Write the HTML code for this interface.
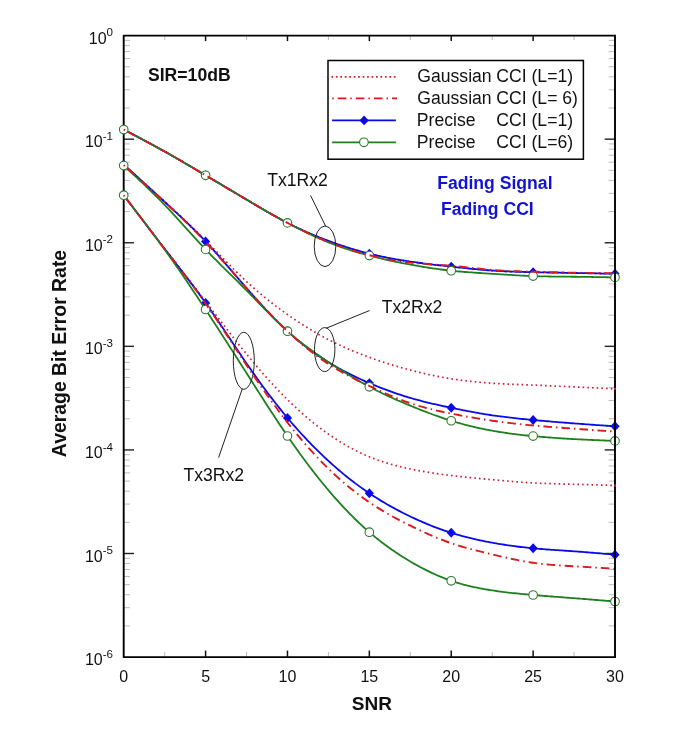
<!DOCTYPE html>
<html><head><meta charset="utf-8"><title>BER vs SNR</title>
<style>html,body{margin:0;padding:0;background:#fff;width:685px;height:754px;overflow:hidden}</style>
</head><body>
<svg width="685" height="754" viewBox="0 0 685 754" style="display:block">
<rect width="100%" height="100%" fill="#fff"/>
<line x1="123.7" y1="108.00" x2="130.00" y2="108.00" stroke="#bcbcbc" stroke-width="1"/>
<line x1="615.0" y1="108.00" x2="608.70" y2="108.00" stroke="#bcbcbc" stroke-width="1"/>
<line x1="123.7" y1="89.76" x2="130.00" y2="89.76" stroke="#bcbcbc" stroke-width="1"/>
<line x1="615.0" y1="89.76" x2="608.70" y2="89.76" stroke="#bcbcbc" stroke-width="1"/>
<line x1="123.7" y1="76.82" x2="130.00" y2="76.82" stroke="#bcbcbc" stroke-width="1"/>
<line x1="615.0" y1="76.82" x2="608.70" y2="76.82" stroke="#bcbcbc" stroke-width="1"/>
<line x1="123.7" y1="66.78" x2="130.00" y2="66.78" stroke="#bcbcbc" stroke-width="1"/>
<line x1="615.0" y1="66.78" x2="608.70" y2="66.78" stroke="#bcbcbc" stroke-width="1"/>
<line x1="123.7" y1="58.58" x2="130.00" y2="58.58" stroke="#bcbcbc" stroke-width="1"/>
<line x1="615.0" y1="58.58" x2="608.70" y2="58.58" stroke="#bcbcbc" stroke-width="1"/>
<line x1="123.7" y1="51.64" x2="130.00" y2="51.64" stroke="#bcbcbc" stroke-width="1"/>
<line x1="615.0" y1="51.64" x2="608.70" y2="51.64" stroke="#bcbcbc" stroke-width="1"/>
<line x1="123.7" y1="45.64" x2="130.00" y2="45.64" stroke="#bcbcbc" stroke-width="1"/>
<line x1="615.0" y1="45.64" x2="608.70" y2="45.64" stroke="#bcbcbc" stroke-width="1"/>
<line x1="123.7" y1="40.34" x2="130.00" y2="40.34" stroke="#bcbcbc" stroke-width="1"/>
<line x1="615.0" y1="40.34" x2="608.70" y2="40.34" stroke="#bcbcbc" stroke-width="1"/>
<line x1="123.7" y1="139.18" x2="134.00" y2="139.18" stroke="#222" stroke-width="1.4"/>
<line x1="615.0" y1="139.18" x2="604.70" y2="139.18" stroke="#222" stroke-width="1.4"/>
<line x1="123.7" y1="211.58" x2="130.00" y2="211.58" stroke="#bcbcbc" stroke-width="1"/>
<line x1="615.0" y1="211.58" x2="608.70" y2="211.58" stroke="#bcbcbc" stroke-width="1"/>
<line x1="123.7" y1="193.34" x2="130.00" y2="193.34" stroke="#bcbcbc" stroke-width="1"/>
<line x1="615.0" y1="193.34" x2="608.70" y2="193.34" stroke="#bcbcbc" stroke-width="1"/>
<line x1="123.7" y1="180.40" x2="130.00" y2="180.40" stroke="#bcbcbc" stroke-width="1"/>
<line x1="615.0" y1="180.40" x2="608.70" y2="180.40" stroke="#bcbcbc" stroke-width="1"/>
<line x1="123.7" y1="170.36" x2="130.00" y2="170.36" stroke="#bcbcbc" stroke-width="1"/>
<line x1="615.0" y1="170.36" x2="608.70" y2="170.36" stroke="#bcbcbc" stroke-width="1"/>
<line x1="123.7" y1="162.16" x2="130.00" y2="162.16" stroke="#bcbcbc" stroke-width="1"/>
<line x1="615.0" y1="162.16" x2="608.70" y2="162.16" stroke="#bcbcbc" stroke-width="1"/>
<line x1="123.7" y1="155.22" x2="130.00" y2="155.22" stroke="#bcbcbc" stroke-width="1"/>
<line x1="615.0" y1="155.22" x2="608.70" y2="155.22" stroke="#bcbcbc" stroke-width="1"/>
<line x1="123.7" y1="149.22" x2="130.00" y2="149.22" stroke="#bcbcbc" stroke-width="1"/>
<line x1="615.0" y1="149.22" x2="608.70" y2="149.22" stroke="#bcbcbc" stroke-width="1"/>
<line x1="123.7" y1="143.92" x2="130.00" y2="143.92" stroke="#bcbcbc" stroke-width="1"/>
<line x1="615.0" y1="143.92" x2="608.70" y2="143.92" stroke="#bcbcbc" stroke-width="1"/>
<line x1="123.7" y1="242.76" x2="134.00" y2="242.76" stroke="#222" stroke-width="1.4"/>
<line x1="615.0" y1="242.76" x2="604.70" y2="242.76" stroke="#222" stroke-width="1.4"/>
<line x1="123.7" y1="315.16" x2="130.00" y2="315.16" stroke="#bcbcbc" stroke-width="1"/>
<line x1="615.0" y1="315.16" x2="608.70" y2="315.16" stroke="#bcbcbc" stroke-width="1"/>
<line x1="123.7" y1="296.92" x2="130.00" y2="296.92" stroke="#bcbcbc" stroke-width="1"/>
<line x1="615.0" y1="296.92" x2="608.70" y2="296.92" stroke="#bcbcbc" stroke-width="1"/>
<line x1="123.7" y1="283.98" x2="130.00" y2="283.98" stroke="#bcbcbc" stroke-width="1"/>
<line x1="615.0" y1="283.98" x2="608.70" y2="283.98" stroke="#bcbcbc" stroke-width="1"/>
<line x1="123.7" y1="273.94" x2="130.00" y2="273.94" stroke="#bcbcbc" stroke-width="1"/>
<line x1="615.0" y1="273.94" x2="608.70" y2="273.94" stroke="#bcbcbc" stroke-width="1"/>
<line x1="123.7" y1="265.74" x2="130.00" y2="265.74" stroke="#bcbcbc" stroke-width="1"/>
<line x1="615.0" y1="265.74" x2="608.70" y2="265.74" stroke="#bcbcbc" stroke-width="1"/>
<line x1="123.7" y1="258.80" x2="130.00" y2="258.80" stroke="#bcbcbc" stroke-width="1"/>
<line x1="615.0" y1="258.80" x2="608.70" y2="258.80" stroke="#bcbcbc" stroke-width="1"/>
<line x1="123.7" y1="252.80" x2="130.00" y2="252.80" stroke="#bcbcbc" stroke-width="1"/>
<line x1="615.0" y1="252.80" x2="608.70" y2="252.80" stroke="#bcbcbc" stroke-width="1"/>
<line x1="123.7" y1="247.50" x2="130.00" y2="247.50" stroke="#bcbcbc" stroke-width="1"/>
<line x1="615.0" y1="247.50" x2="608.70" y2="247.50" stroke="#bcbcbc" stroke-width="1"/>
<line x1="123.7" y1="346.34" x2="134.00" y2="346.34" stroke="#222" stroke-width="1.4"/>
<line x1="615.0" y1="346.34" x2="604.70" y2="346.34" stroke="#222" stroke-width="1.4"/>
<line x1="123.7" y1="418.74" x2="130.00" y2="418.74" stroke="#bcbcbc" stroke-width="1"/>
<line x1="615.0" y1="418.74" x2="608.70" y2="418.74" stroke="#bcbcbc" stroke-width="1"/>
<line x1="123.7" y1="400.50" x2="130.00" y2="400.50" stroke="#bcbcbc" stroke-width="1"/>
<line x1="615.0" y1="400.50" x2="608.70" y2="400.50" stroke="#bcbcbc" stroke-width="1"/>
<line x1="123.7" y1="387.56" x2="130.00" y2="387.56" stroke="#bcbcbc" stroke-width="1"/>
<line x1="615.0" y1="387.56" x2="608.70" y2="387.56" stroke="#bcbcbc" stroke-width="1"/>
<line x1="123.7" y1="377.52" x2="130.00" y2="377.52" stroke="#bcbcbc" stroke-width="1"/>
<line x1="615.0" y1="377.52" x2="608.70" y2="377.52" stroke="#bcbcbc" stroke-width="1"/>
<line x1="123.7" y1="369.32" x2="130.00" y2="369.32" stroke="#bcbcbc" stroke-width="1"/>
<line x1="615.0" y1="369.32" x2="608.70" y2="369.32" stroke="#bcbcbc" stroke-width="1"/>
<line x1="123.7" y1="362.38" x2="130.00" y2="362.38" stroke="#bcbcbc" stroke-width="1"/>
<line x1="615.0" y1="362.38" x2="608.70" y2="362.38" stroke="#bcbcbc" stroke-width="1"/>
<line x1="123.7" y1="356.38" x2="130.00" y2="356.38" stroke="#bcbcbc" stroke-width="1"/>
<line x1="615.0" y1="356.38" x2="608.70" y2="356.38" stroke="#bcbcbc" stroke-width="1"/>
<line x1="123.7" y1="351.08" x2="130.00" y2="351.08" stroke="#bcbcbc" stroke-width="1"/>
<line x1="615.0" y1="351.08" x2="608.70" y2="351.08" stroke="#bcbcbc" stroke-width="1"/>
<line x1="123.7" y1="449.92" x2="134.00" y2="449.92" stroke="#222" stroke-width="1.4"/>
<line x1="615.0" y1="449.92" x2="604.70" y2="449.92" stroke="#222" stroke-width="1.4"/>
<line x1="123.7" y1="522.32" x2="130.00" y2="522.32" stroke="#bcbcbc" stroke-width="1"/>
<line x1="615.0" y1="522.32" x2="608.70" y2="522.32" stroke="#bcbcbc" stroke-width="1"/>
<line x1="123.7" y1="504.08" x2="130.00" y2="504.08" stroke="#bcbcbc" stroke-width="1"/>
<line x1="615.0" y1="504.08" x2="608.70" y2="504.08" stroke="#bcbcbc" stroke-width="1"/>
<line x1="123.7" y1="491.14" x2="130.00" y2="491.14" stroke="#bcbcbc" stroke-width="1"/>
<line x1="615.0" y1="491.14" x2="608.70" y2="491.14" stroke="#bcbcbc" stroke-width="1"/>
<line x1="123.7" y1="481.10" x2="130.00" y2="481.10" stroke="#bcbcbc" stroke-width="1"/>
<line x1="615.0" y1="481.10" x2="608.70" y2="481.10" stroke="#bcbcbc" stroke-width="1"/>
<line x1="123.7" y1="472.90" x2="130.00" y2="472.90" stroke="#bcbcbc" stroke-width="1"/>
<line x1="615.0" y1="472.90" x2="608.70" y2="472.90" stroke="#bcbcbc" stroke-width="1"/>
<line x1="123.7" y1="465.96" x2="130.00" y2="465.96" stroke="#bcbcbc" stroke-width="1"/>
<line x1="615.0" y1="465.96" x2="608.70" y2="465.96" stroke="#bcbcbc" stroke-width="1"/>
<line x1="123.7" y1="459.96" x2="130.00" y2="459.96" stroke="#bcbcbc" stroke-width="1"/>
<line x1="615.0" y1="459.96" x2="608.70" y2="459.96" stroke="#bcbcbc" stroke-width="1"/>
<line x1="123.7" y1="454.66" x2="130.00" y2="454.66" stroke="#bcbcbc" stroke-width="1"/>
<line x1="615.0" y1="454.66" x2="608.70" y2="454.66" stroke="#bcbcbc" stroke-width="1"/>
<line x1="123.7" y1="553.50" x2="134.00" y2="553.50" stroke="#222" stroke-width="1.4"/>
<line x1="615.0" y1="553.50" x2="604.70" y2="553.50" stroke="#222" stroke-width="1.4"/>
<line x1="123.7" y1="625.90" x2="130.00" y2="625.90" stroke="#bcbcbc" stroke-width="1"/>
<line x1="615.0" y1="625.90" x2="608.70" y2="625.90" stroke="#bcbcbc" stroke-width="1"/>
<line x1="123.7" y1="607.66" x2="130.00" y2="607.66" stroke="#bcbcbc" stroke-width="1"/>
<line x1="615.0" y1="607.66" x2="608.70" y2="607.66" stroke="#bcbcbc" stroke-width="1"/>
<line x1="123.7" y1="594.72" x2="130.00" y2="594.72" stroke="#bcbcbc" stroke-width="1"/>
<line x1="615.0" y1="594.72" x2="608.70" y2="594.72" stroke="#bcbcbc" stroke-width="1"/>
<line x1="123.7" y1="584.68" x2="130.00" y2="584.68" stroke="#bcbcbc" stroke-width="1"/>
<line x1="615.0" y1="584.68" x2="608.70" y2="584.68" stroke="#bcbcbc" stroke-width="1"/>
<line x1="123.7" y1="576.48" x2="130.00" y2="576.48" stroke="#bcbcbc" stroke-width="1"/>
<line x1="615.0" y1="576.48" x2="608.70" y2="576.48" stroke="#bcbcbc" stroke-width="1"/>
<line x1="123.7" y1="569.54" x2="130.00" y2="569.54" stroke="#bcbcbc" stroke-width="1"/>
<line x1="615.0" y1="569.54" x2="608.70" y2="569.54" stroke="#bcbcbc" stroke-width="1"/>
<line x1="123.7" y1="563.54" x2="130.00" y2="563.54" stroke="#bcbcbc" stroke-width="1"/>
<line x1="615.0" y1="563.54" x2="608.70" y2="563.54" stroke="#bcbcbc" stroke-width="1"/>
<line x1="123.7" y1="558.24" x2="130.00" y2="558.24" stroke="#bcbcbc" stroke-width="1"/>
<line x1="615.0" y1="558.24" x2="608.70" y2="558.24" stroke="#bcbcbc" stroke-width="1"/>
<line x1="164.64" y1="657.08" x2="164.64" y2="652.08" stroke="#bbb" stroke-width="1"/>
<line x1="164.64" y1="35.6" x2="164.64" y2="40.10" stroke="#bbb" stroke-width="1"/>
<line x1="205.58" y1="657.08" x2="205.58" y2="650.58" stroke="#111" stroke-width="1.5"/>
<line x1="205.58" y1="35.6" x2="205.58" y2="41.10" stroke="#111" stroke-width="1.5"/>
<line x1="246.53" y1="657.08" x2="246.53" y2="652.08" stroke="#bbb" stroke-width="1"/>
<line x1="246.53" y1="35.6" x2="246.53" y2="40.10" stroke="#bbb" stroke-width="1"/>
<line x1="287.47" y1="657.08" x2="287.47" y2="650.58" stroke="#111" stroke-width="1.5"/>
<line x1="287.47" y1="35.6" x2="287.47" y2="41.10" stroke="#111" stroke-width="1.5"/>
<line x1="328.41" y1="657.08" x2="328.41" y2="652.08" stroke="#bbb" stroke-width="1"/>
<line x1="328.41" y1="35.6" x2="328.41" y2="40.10" stroke="#bbb" stroke-width="1"/>
<line x1="369.35" y1="657.08" x2="369.35" y2="650.58" stroke="#111" stroke-width="1.5"/>
<line x1="369.35" y1="35.6" x2="369.35" y2="41.10" stroke="#111" stroke-width="1.5"/>
<line x1="410.29" y1="657.08" x2="410.29" y2="652.08" stroke="#bbb" stroke-width="1"/>
<line x1="410.29" y1="35.6" x2="410.29" y2="40.10" stroke="#bbb" stroke-width="1"/>
<line x1="451.23" y1="657.08" x2="451.23" y2="650.58" stroke="#111" stroke-width="1.5"/>
<line x1="451.23" y1="35.6" x2="451.23" y2="41.10" stroke="#111" stroke-width="1.5"/>
<line x1="492.18" y1="657.08" x2="492.18" y2="652.08" stroke="#bbb" stroke-width="1"/>
<line x1="492.18" y1="35.6" x2="492.18" y2="40.10" stroke="#bbb" stroke-width="1"/>
<line x1="533.12" y1="657.08" x2="533.12" y2="650.58" stroke="#111" stroke-width="1.5"/>
<line x1="533.12" y1="35.6" x2="533.12" y2="41.10" stroke="#111" stroke-width="1.5"/>
<line x1="574.06" y1="657.08" x2="574.06" y2="652.08" stroke="#bbb" stroke-width="1"/>
<line x1="574.06" y1="35.6" x2="574.06" y2="40.10" stroke="#bbb" stroke-width="1"/>
<path d="M615.0,35.6 H123.7 V657.08 H615.0" fill="none" stroke="#000" stroke-width="1.9" stroke-linejoin="round"/>
<polyline points="123.70,129.55 125.75,130.62 127.79,131.70 129.84,132.77 131.89,133.85 133.94,134.93 135.98,136.01 138.03,137.09 140.08,138.17 142.12,139.26 144.17,140.35 146.22,141.45 148.27,142.54 150.31,143.64 152.36,144.75 154.41,145.86 156.45,146.98 158.50,148.10 160.55,149.23 162.59,150.36 164.64,151.50 166.69,152.65 168.74,153.80 170.78,154.96 172.83,156.13 174.88,157.30 176.92,158.47 178.97,159.66 181.02,160.84 183.07,162.03 185.11,163.23 187.16,164.42 189.21,165.62 191.25,166.83 193.30,168.03 195.35,169.24 197.40,170.45 199.44,171.66 201.49,172.87 203.54,174.09 205.58,175.30 207.63,176.51 209.68,177.73 211.72,178.94 213.77,180.15 215.82,181.37 217.87,182.58 219.91,183.79 221.96,185.01 224.01,186.22 226.05,187.44 228.10,188.65 230.15,189.87 232.20,191.08 234.24,192.30 236.29,193.51 238.34,194.73 240.38,195.95 242.43,197.16 244.48,198.38 246.53,199.60 248.57,200.82 250.62,202.04 252.67,203.25 254.71,204.47 256.76,205.68 258.81,206.89 260.85,208.09 262.90,209.29 264.95,210.48 267.00,211.66 269.04,212.84 271.09,214.00 273.14,215.16 275.18,216.31 277.23,217.44 279.28,218.56 281.33,219.67 283.37,220.76 285.42,221.84 287.47,222.90 289.51,223.94 291.56,224.97 293.61,225.98 295.66,226.98 297.70,227.96 299.75,228.92 301.80,229.87 303.84,230.80 305.89,231.72 307.94,232.62 309.98,233.51 312.03,234.39 314.08,235.25 316.13,236.09 318.17,236.93 320.22,237.75 322.27,238.55 324.31,239.35 326.36,240.13 328.41,240.90 330.46,241.66 332.50,242.40 334.55,243.14 336.60,243.86 338.64,244.57 340.69,245.27 342.74,245.95 344.79,246.63 346.83,247.29 348.88,247.93 350.93,248.57 352.97,249.19 355.02,249.80 357.07,250.40 359.11,250.98 361.16,251.55 363.21,252.11 365.26,252.65 367.30,253.18 369.35,253.70 371.40,254.20 373.44,254.69 375.49,255.17 377.54,255.64 379.59,256.09 381.63,256.53 383.68,256.96 385.73,257.37 387.77,257.78 389.82,258.18 391.87,258.56 393.92,258.93 395.96,259.30 398.01,259.65 400.06,260.00 402.10,260.34 404.15,260.67 406.20,260.98 408.24,261.30 410.29,261.60 412.34,261.90 414.39,262.19 416.43,262.47 418.48,262.74 420.53,263.01 422.57,263.28 424.62,263.54 426.67,263.79 428.72,264.04 430.76,264.29 432.81,264.53 434.86,264.77 436.90,265.00 438.95,265.24 441.00,265.47 443.05,265.70 445.09,265.92 447.14,266.15 449.19,266.37 451.23,266.60 453.28,266.82 455.33,267.05 457.37,267.27 459.42,267.50 461.47,267.72 463.52,267.94 465.56,268.15 467.61,268.36 469.66,268.57 471.70,268.78 473.75,268.98 475.80,269.18 477.85,269.37 479.89,269.56 481.94,269.74 483.99,269.92 486.03,270.09 488.08,270.25 490.13,270.40 492.18,270.55 494.22,270.69 496.27,270.82 498.32,270.94 500.36,271.06 502.41,271.17 504.46,271.27 506.50,271.36 508.55,271.45 510.60,271.54 512.65,271.62 514.69,271.69 516.74,271.76 518.79,271.83 520.83,271.89 522.88,271.95 524.93,272.00 526.98,272.06 529.02,272.11 531.07,272.15 533.12,272.20 535.16,272.24 537.21,272.29 539.26,272.33 541.31,272.37 543.35,272.41 545.40,272.45 547.45,272.48 549.49,272.52 551.54,272.56 553.59,272.59 555.63,272.63 557.68,272.66 559.73,272.70 561.78,272.73 563.82,272.77 565.87,272.80 567.92,272.84 569.96,272.88 572.01,272.91 574.06,272.95 576.11,272.99 578.15,273.03 580.20,273.07 582.25,273.11 584.29,273.15 586.34,273.19 588.39,273.23 590.44,273.27 592.48,273.31 594.53,273.36 596.58,273.40 598.62,273.44 600.67,273.49 602.72,273.53 604.76,273.58 606.81,273.62 608.86,273.67 610.91,273.71 612.95,273.76 615.00,273.80" fill="none" stroke="#d01c30" stroke-width="1.7" stroke-dasharray="1.6 3.1"/>
<polyline points="123.70,165.10 125.75,166.90 127.79,168.70 129.84,170.50 131.89,172.30 133.94,174.10 135.98,175.90 138.03,177.71 140.08,179.52 142.12,181.33 144.17,183.14 146.22,184.95 148.27,186.77 150.31,188.60 152.36,190.43 154.41,192.26 156.45,194.10 158.50,195.94 160.55,197.79 162.59,199.64 164.64,201.50 166.69,203.37 168.74,205.24 170.78,207.12 172.83,209.01 174.88,210.90 176.92,212.81 178.97,214.72 181.02,216.64 183.07,218.57 185.11,220.51 187.16,222.46 189.21,224.42 191.25,226.39 193.30,228.37 195.35,230.36 197.40,232.37 199.44,234.38 201.49,236.41 203.54,238.45 205.58,240.50 207.63,242.57 209.68,244.64 211.72,246.73 213.77,248.82 215.82,250.92 217.87,253.02 219.91,255.11 221.96,257.21 224.01,259.31 226.05,261.40 228.10,263.48 230.15,265.55 232.20,267.61 234.24,269.65 236.29,271.68 238.34,273.69 240.38,275.68 242.43,277.64 244.48,279.59 246.53,281.50 248.57,283.39 250.62,285.24 252.67,287.07 254.71,288.88 256.76,290.65 258.81,292.40 260.85,294.13 262.90,295.83 264.95,297.50 267.00,299.15 269.04,300.78 271.09,302.39 273.14,303.97 275.18,305.54 277.23,307.08 279.28,308.60 281.33,310.10 283.37,311.59 285.42,313.05 287.47,314.50 289.51,315.93 291.56,317.34 293.61,318.74 295.66,320.12 297.70,321.48 299.75,322.82 301.80,324.14 303.84,325.45 305.89,326.73 307.94,328.00 309.98,329.25 312.03,330.48 314.08,331.69 316.13,332.88 318.17,334.05 320.22,335.20 322.27,336.33 324.31,337.44 326.36,338.53 328.41,339.60 330.46,340.65 332.50,341.68 334.55,342.69 336.60,343.68 338.64,344.65 340.69,345.60 342.74,346.53 344.79,347.45 346.83,348.35 348.88,349.24 350.93,350.11 352.97,350.96 355.02,351.80 357.07,352.62 359.11,353.43 361.16,354.23 363.21,355.02 365.26,355.79 367.30,356.55 369.35,357.30 371.40,358.04 373.44,358.77 375.49,359.48 377.54,360.19 379.59,360.89 381.63,361.57 383.68,362.25 385.73,362.91 387.77,363.57 389.82,364.21 391.87,364.85 393.92,365.47 395.96,366.08 398.01,366.69 400.06,367.28 402.10,367.86 404.15,368.44 406.20,369.00 408.24,369.56 410.29,370.10 412.34,370.63 414.39,371.16 416.43,371.67 418.48,372.18 420.53,372.67 422.57,373.16 424.62,373.63 426.67,374.10 428.72,374.55 430.76,374.99 432.81,375.42 434.86,375.84 436.90,376.25 438.95,376.65 441.00,377.04 443.05,377.41 445.09,377.78 447.14,378.13 449.19,378.47 451.23,378.80 453.28,379.12 455.33,379.42 457.37,379.71 459.42,380.00 461.47,380.27 463.52,380.53 465.56,380.78 467.61,381.02 469.66,381.25 471.70,381.47 473.75,381.68 475.80,381.88 477.85,382.07 479.89,382.26 481.94,382.43 483.99,382.60 486.03,382.76 488.08,382.92 490.13,383.06 492.18,383.20 494.22,383.33 496.27,383.46 498.32,383.58 500.36,383.69 502.41,383.80 504.46,383.91 506.50,384.01 508.55,384.10 510.60,384.20 512.65,384.29 514.69,384.37 516.74,384.46 518.79,384.54 520.83,384.62 522.88,384.70 524.93,384.78 526.98,384.86 529.02,384.94 531.07,385.02 533.12,385.10 535.16,385.18 537.21,385.27 539.26,385.35 541.31,385.43 543.35,385.52 545.40,385.61 547.45,385.70 549.49,385.79 551.54,385.88 553.59,385.97 555.63,386.06 557.68,386.15 559.73,386.24 561.78,386.34 563.82,386.43 565.87,386.52 567.92,386.62 569.96,386.71 572.01,386.81 574.06,386.90 576.11,386.99 578.15,387.09 580.20,387.18 582.25,387.28 584.29,387.37 586.34,387.47 588.39,387.56 590.44,387.66 592.48,387.75 594.53,387.85 596.58,387.94 598.62,388.04 600.67,388.13 602.72,388.23 604.76,388.32 606.81,388.42 608.86,388.51 610.91,388.61 612.95,388.70 615.00,388.80" fill="none" stroke="#d01c30" stroke-width="1.7" stroke-dasharray="1.6 3.1"/>
<polyline points="123.70,195.20 125.75,197.87 127.79,200.54 129.84,203.22 131.89,205.89 133.94,208.56 135.98,211.23 138.03,213.90 140.08,216.57 142.12,219.24 144.17,221.90 146.22,224.57 148.27,227.24 150.31,229.90 152.36,232.56 154.41,235.22 156.45,237.88 158.50,240.54 160.55,243.19 162.59,245.85 164.64,248.50 166.69,251.15 168.74,253.80 170.78,256.44 172.83,259.09 174.88,261.73 176.92,264.38 178.97,267.02 181.02,269.66 183.07,272.31 185.11,274.95 187.16,277.60 189.21,280.24 191.25,282.89 193.30,285.54 195.35,288.19 197.40,290.85 199.44,293.51 201.49,296.17 203.54,298.83 205.58,301.50 207.63,304.17 209.68,306.85 211.72,309.52 213.77,312.20 215.82,314.88 217.87,317.55 219.91,320.23 221.96,322.89 224.01,325.55 226.05,328.21 228.10,330.85 230.15,333.49 232.20,336.12 234.24,338.73 236.29,341.33 238.34,343.92 240.38,346.49 242.43,349.05 244.48,351.58 246.53,354.10 248.57,356.60 250.62,359.07 252.67,361.53 254.71,363.96 256.76,366.37 258.81,368.76 260.85,371.12 262.90,373.47 264.95,375.78 267.00,378.08 269.04,380.35 271.09,382.59 273.14,384.81 275.18,387.00 277.23,389.17 279.28,391.31 281.33,393.43 283.37,395.51 285.42,397.57 287.47,399.60 289.51,401.60 291.56,403.57 293.61,405.52 295.66,407.43 297.70,409.32 299.75,411.18 301.80,413.00 303.84,414.80 305.89,416.57 307.94,418.31 309.98,420.03 312.03,421.71 314.08,423.36 316.13,424.98 318.17,426.58 320.22,428.14 322.27,429.68 324.31,431.18 326.36,432.66 328.41,434.10 330.46,435.52 332.50,436.90 334.55,438.26 336.60,439.58 338.64,440.88 340.69,442.14 342.74,443.38 344.79,444.59 346.83,445.77 348.88,446.91 350.93,448.03 352.97,449.12 355.02,450.19 357.07,451.22 359.11,452.22 361.16,453.19 363.21,454.14 365.26,455.05 367.30,455.94 369.35,456.80 371.40,457.63 373.44,458.43 375.49,459.21 377.54,459.96 379.59,460.68 381.63,461.38 383.68,462.05 385.73,462.70 387.77,463.33 389.82,463.94 391.87,464.53 393.92,465.09 395.96,465.64 398.01,466.17 400.06,466.68 402.10,467.17 404.15,467.65 406.20,468.12 408.24,468.57 410.29,469.00 412.34,469.42 414.39,469.83 416.43,470.23 418.48,470.61 420.53,470.99 422.57,471.35 424.62,471.70 426.67,472.05 428.72,472.38 430.76,472.70 432.81,473.02 434.86,473.32 436.90,473.62 438.95,473.91 441.00,474.19 443.05,474.47 445.09,474.73 447.14,474.99 449.19,475.25 451.23,475.50 453.28,475.74 455.33,475.98 457.37,476.22 459.42,476.45 461.47,476.68 463.52,476.90 465.56,477.12 467.61,477.33 469.66,477.54 471.70,477.75 473.75,477.95 475.80,478.16 477.85,478.36 479.89,478.55 481.94,478.75 483.99,478.94 486.03,479.13 488.08,479.32 490.13,479.51 492.18,479.70 494.22,479.89 496.27,480.07 498.32,480.26 500.36,480.44 502.41,480.62 504.46,480.80 506.50,480.98 508.55,481.15 510.60,481.32 512.65,481.49 514.69,481.65 516.74,481.81 518.79,481.97 520.83,482.12 522.88,482.26 524.93,482.40 526.98,482.53 529.02,482.66 531.07,482.78 533.12,482.90 535.16,483.01 537.21,483.11 539.26,483.21 541.31,483.30 543.35,483.38 545.40,483.46 547.45,483.54 549.49,483.61 551.54,483.68 553.59,483.75 555.63,483.81 557.68,483.87 559.73,483.93 561.78,483.98 563.82,484.04 565.87,484.09 567.92,484.14 569.96,484.19 572.01,484.25 574.06,484.30 576.11,484.35 578.15,484.41 580.20,484.47 582.25,484.52 584.29,484.58 586.34,484.64 588.39,484.70 590.44,484.76 592.48,484.82 594.53,484.88 596.58,484.94 598.62,485.00 600.67,485.06 602.72,485.12 604.76,485.19 606.81,485.25 608.86,485.31 610.91,485.37 612.95,485.44 615.00,485.50" fill="none" stroke="#d01c30" stroke-width="1.7" stroke-dasharray="1.6 3.1"/>
<polyline points="123.70,129.55 125.75,130.62 127.79,131.70 129.84,132.77 131.89,133.85 133.94,134.93 135.98,136.01 138.03,137.09 140.08,138.17 142.12,139.26 144.17,140.35 146.22,141.45 148.27,142.54 150.31,143.64 152.36,144.75 154.41,145.86 156.45,146.98 158.50,148.10 160.55,149.23 162.59,150.36 164.64,151.50 166.69,152.65 168.74,153.80 170.78,154.96 172.83,156.13 174.88,157.30 176.92,158.47 178.97,159.66 181.02,160.84 183.07,162.03 185.11,163.23 187.16,164.42 189.21,165.62 191.25,166.83 193.30,168.03 195.35,169.24 197.40,170.45 199.44,171.66 201.49,172.87 203.54,174.09 205.58,175.30 207.63,176.51 209.68,177.73 211.72,178.94 213.77,180.15 215.82,181.37 217.87,182.58 219.91,183.79 221.96,185.01 224.01,186.22 226.05,187.44 228.10,188.65 230.15,189.87 232.20,191.08 234.24,192.30 236.29,193.51 238.34,194.73 240.38,195.95 242.43,197.16 244.48,198.38 246.53,199.60 248.57,200.82 250.62,202.04 252.67,203.25 254.71,204.47 256.76,205.68 258.81,206.89 260.85,208.09 262.90,209.29 264.95,210.48 267.00,211.66 269.04,212.84 271.09,214.00 273.14,215.16 275.18,216.31 277.23,217.44 279.28,218.56 281.33,219.67 283.37,220.76 285.42,221.84 287.47,222.90 289.51,223.94 291.56,224.97 293.61,225.98 295.66,226.98 297.70,227.96 299.75,228.92 301.80,229.87 303.84,230.80 305.89,231.72 307.94,232.62 309.98,233.51 312.03,234.39 314.08,235.25 316.13,236.09 318.17,236.93 320.22,237.75 322.27,238.55 324.31,239.35 326.36,240.13 328.41,240.90 330.46,241.66 332.50,242.40 334.55,243.14 336.60,243.86 338.64,244.57 340.69,245.27 342.74,245.95 344.79,246.63 346.83,247.29 348.88,247.93 350.93,248.57 352.97,249.19 355.02,249.80 357.07,250.40 359.11,250.98 361.16,251.55 363.21,252.11 365.26,252.65 367.30,253.18 369.35,253.70 371.40,254.20 373.44,254.69 375.49,255.17 377.54,255.64 379.59,256.09 381.63,256.53 383.68,256.96 385.73,257.37 387.77,257.78 389.82,258.18 391.87,258.56 393.92,258.93 395.96,259.30 398.01,259.65 400.06,260.00 402.10,260.34 404.15,260.67 406.20,260.98 408.24,261.30 410.29,261.60 412.34,261.90 414.39,262.19 416.43,262.47 418.48,262.74 420.53,263.01 422.57,263.28 424.62,263.54 426.67,263.79 428.72,264.04 430.76,264.29 432.81,264.53 434.86,264.77 436.90,265.00 438.95,265.24 441.00,265.47 443.05,265.70 445.09,265.92 447.14,266.15 449.19,266.37 451.23,266.60 453.28,266.82 455.33,267.05 457.37,267.27 459.42,267.50 461.47,267.72 463.52,267.94 465.56,268.15 467.61,268.36 469.66,268.57 471.70,268.78 473.75,268.98 475.80,269.18 477.85,269.37 479.89,269.56 481.94,269.74 483.99,269.92 486.03,270.09 488.08,270.25 490.13,270.40 492.18,270.55 494.22,270.69 496.27,270.82 498.32,270.94 500.36,271.06 502.41,271.17 504.46,271.27 506.50,271.36 508.55,271.45 510.60,271.54 512.65,271.62 514.69,271.69 516.74,271.76 518.79,271.83 520.83,271.89 522.88,271.95 524.93,272.00 526.98,272.06 529.02,272.11 531.07,272.15 533.12,272.20 535.16,272.24 537.21,272.29 539.26,272.33 541.31,272.37 543.35,272.41 545.40,272.45 547.45,272.48 549.49,272.52 551.54,272.56 553.59,272.59 555.63,272.63 557.68,272.66 559.73,272.70 561.78,272.73 563.82,272.77 565.87,272.80 567.92,272.84 569.96,272.88 572.01,272.91 574.06,272.95 576.11,272.99 578.15,273.03 580.20,273.07 582.25,273.11 584.29,273.15 586.34,273.19 588.39,273.23 590.44,273.27 592.48,273.31 594.53,273.36 596.58,273.40 598.62,273.44 600.67,273.49 602.72,273.53 604.76,273.58 606.81,273.62 608.86,273.67 610.91,273.71 612.95,273.76 615.00,273.80" fill="none" stroke="#0a0ae8" stroke-width="1.8"/>
<path d="M123.70,124.60 L128.30,129.55 L123.70,134.50 L119.10,129.55Z" fill="#0a0ae8"/>
<path d="M205.58,170.35 L210.18,175.30 L205.58,180.25 L200.98,175.30Z" fill="#0a0ae8"/>
<path d="M287.47,217.95 L292.07,222.90 L287.47,227.85 L282.87,222.90Z" fill="#0a0ae8"/>
<path d="M369.35,248.75 L373.95,253.70 L369.35,258.65 L364.75,253.70Z" fill="#0a0ae8"/>
<path d="M451.23,261.65 L455.83,266.60 L451.23,271.55 L446.63,266.60Z" fill="#0a0ae8"/>
<path d="M533.12,267.25 L537.72,272.20 L533.12,277.15 L528.52,272.20Z" fill="#0a0ae8"/>
<path d="M615.00,268.85 L619.60,273.80 L615.00,278.75 L610.40,273.80Z" fill="#0a0ae8"/>
<polyline points="123.70,164.40 125.75,166.28 127.79,168.15 129.84,170.03 131.89,171.90 133.94,173.78 135.98,175.65 138.03,177.53 140.08,179.40 142.12,181.28 144.17,183.15 146.22,185.03 148.27,186.90 150.31,188.78 152.36,190.65 154.41,192.53 156.45,194.40 158.50,196.28 160.55,198.15 162.59,200.03 164.64,201.90 166.69,203.78 168.74,205.65 170.78,207.53 172.83,209.42 174.88,211.31 176.92,213.20 178.97,215.11 181.02,217.03 183.07,218.96 185.11,220.90 187.16,222.86 189.21,224.83 191.25,226.82 193.30,228.84 195.35,230.87 197.40,232.92 199.44,235.00 201.49,237.11 203.54,239.24 205.58,241.40 207.63,243.59 209.68,245.81 211.72,248.05 213.77,250.32 215.82,252.61 217.87,254.91 219.91,257.24 221.96,259.58 224.01,261.94 226.05,264.30 228.10,266.67 230.15,269.06 232.20,271.44 234.24,273.83 236.29,276.22 238.34,278.61 240.38,280.99 242.43,283.37 244.48,285.74 246.53,288.10 248.57,290.45 250.62,292.78 252.67,295.11 254.71,297.41 256.76,299.70 258.81,301.97 260.85,304.22 262.90,306.45 264.95,308.66 267.00,310.85 269.04,313.01 271.09,315.15 273.14,317.26 275.18,319.34 277.23,321.40 279.28,323.42 281.33,325.42 283.37,327.38 285.42,329.31 287.47,331.20 289.51,333.06 291.56,334.88 293.61,336.67 295.66,338.42 297.70,340.14 299.75,341.82 301.80,343.48 303.84,345.10 305.89,346.68 307.94,348.24 309.98,349.77 312.03,351.26 314.08,352.73 316.13,354.17 318.17,355.57 320.22,356.95 322.27,358.31 324.31,359.63 326.36,360.93 328.41,362.20 330.46,363.45 332.50,364.67 334.55,365.86 336.60,367.04 338.64,368.19 340.69,369.32 342.74,370.42 344.79,371.51 346.83,372.57 348.88,373.61 350.93,374.64 352.97,375.64 355.02,376.63 357.07,377.60 359.11,378.56 361.16,379.50 363.21,380.42 365.26,381.33 367.30,382.22 369.35,383.10 371.40,383.97 373.44,384.82 375.49,385.66 377.54,386.49 379.59,387.31 381.63,388.11 383.68,388.90 385.73,389.67 387.77,390.43 389.82,391.18 391.87,391.92 393.92,392.64 395.96,393.34 398.01,394.04 400.06,394.72 402.10,395.38 404.15,396.03 406.20,396.67 408.24,397.29 410.29,397.90 412.34,398.49 414.39,399.07 416.43,399.64 418.48,400.20 420.53,400.74 422.57,401.27 424.62,401.79 426.67,402.30 428.72,402.80 430.76,403.29 432.81,403.77 434.86,404.24 436.90,404.71 438.95,405.17 441.00,405.62 443.05,406.06 445.09,406.50 447.14,406.94 449.19,407.37 451.23,407.80 453.28,408.22 455.33,408.65 457.37,409.06 459.42,409.48 461.47,409.89 463.52,410.29 465.56,410.69 467.61,411.08 469.66,411.47 471.70,411.86 473.75,412.23 475.80,412.60 477.85,412.97 479.89,413.32 481.94,413.67 483.99,414.02 486.03,414.35 488.08,414.67 490.13,414.99 492.18,415.30 494.22,415.60 496.27,415.89 498.32,416.17 500.36,416.44 502.41,416.71 504.46,416.97 506.50,417.22 508.55,417.46 510.60,417.70 512.65,417.94 514.69,418.16 516.74,418.38 518.79,418.60 520.83,418.81 522.88,419.02 524.93,419.22 526.98,419.42 529.02,419.62 531.07,419.81 533.12,420.00 535.16,420.19 537.21,420.37 539.26,420.56 541.31,420.74 543.35,420.92 545.40,421.10 547.45,421.27 549.49,421.45 551.54,421.62 553.59,421.79 555.63,421.96 557.68,422.12 559.73,422.29 561.78,422.45 563.82,422.61 565.87,422.77 567.92,422.93 569.96,423.09 572.01,423.25 574.06,423.40 576.11,423.55 578.15,423.70 580.20,423.86 582.25,424.01 584.29,424.15 586.34,424.30 588.39,424.45 590.44,424.59 592.48,424.74 594.53,424.88 596.58,425.03 598.62,425.17 600.67,425.31 602.72,425.45 604.76,425.60 606.81,425.74 608.86,425.88 610.91,426.02 612.95,426.16 615.00,426.30" fill="none" stroke="#0a0ae8" stroke-width="1.8"/>
<path d="M123.70,159.45 L128.30,164.40 L123.70,169.35 L119.10,164.40Z" fill="#0a0ae8"/>
<path d="M205.58,236.45 L210.18,241.40 L205.58,246.35 L200.98,241.40Z" fill="#0a0ae8"/>
<path d="M287.47,326.25 L292.07,331.20 L287.47,336.15 L282.87,331.20Z" fill="#0a0ae8"/>
<path d="M369.35,378.15 L373.95,383.10 L369.35,388.05 L364.75,383.10Z" fill="#0a0ae8"/>
<path d="M451.23,402.85 L455.83,407.80 L451.23,412.75 L446.63,407.80Z" fill="#0a0ae8"/>
<path d="M533.12,415.05 L537.72,420.00 L533.12,424.95 L528.52,420.00Z" fill="#0a0ae8"/>
<path d="M615.00,421.35 L619.60,426.30 L615.00,431.25 L610.40,426.30Z" fill="#0a0ae8"/>
<polyline points="123.70,195.20 125.75,197.91 127.79,200.61 129.84,203.32 131.89,206.03 133.94,208.73 135.98,211.43 138.03,214.13 140.08,216.83 142.12,219.53 144.17,222.22 146.22,224.91 148.27,227.59 150.31,230.28 152.36,232.95 154.41,235.62 156.45,238.29 158.50,240.95 160.55,243.61 162.59,246.26 164.64,248.90 166.69,251.54 168.74,254.17 170.78,256.80 172.83,259.42 174.88,262.05 176.92,264.68 178.97,267.32 181.02,269.96 183.07,272.61 185.11,275.28 187.16,277.95 189.21,280.64 191.25,283.34 193.30,286.07 195.35,288.81 197.40,291.58 199.44,294.37 201.49,297.18 203.54,300.03 205.58,302.90 207.63,305.80 209.68,308.74 211.72,311.70 213.77,314.68 215.82,317.69 217.87,320.71 219.91,323.75 221.96,326.80 224.01,329.86 226.05,332.92 228.10,336.00 230.15,339.07 232.20,342.14 234.24,345.21 236.29,348.28 238.34,351.33 240.38,354.37 242.43,357.40 244.48,360.41 246.53,363.40 248.57,366.37 250.62,369.31 252.67,372.23 254.71,375.13 256.76,378.01 258.81,380.85 260.85,383.68 262.90,386.47 264.95,389.25 267.00,391.99 269.04,394.71 271.09,397.40 273.14,400.06 275.18,402.70 277.23,405.31 279.28,407.88 281.33,410.43 283.37,412.95 285.42,415.44 287.47,417.90 289.51,420.33 291.56,422.72 293.61,425.09 295.66,427.43 297.70,429.73 299.75,432.01 301.80,434.26 303.84,436.47 305.89,438.66 307.94,440.82 309.98,442.95 312.03,445.06 314.08,447.13 316.13,449.18 318.17,451.20 320.22,453.19 322.27,455.16 324.31,457.10 326.36,459.01 328.41,460.90 330.46,462.76 332.50,464.60 334.55,466.40 336.60,468.19 338.64,469.95 340.69,471.68 342.74,473.38 344.79,475.07 346.83,476.72 348.88,478.35 350.93,479.96 352.97,481.54 355.02,483.10 357.07,484.63 359.11,486.13 361.16,487.62 363.21,489.07 365.26,490.51 367.30,491.92 369.35,493.30 371.40,494.66 373.44,496.00 375.49,497.31 377.54,498.60 379.59,499.87 381.63,501.12 383.68,502.34 385.73,503.54 387.77,504.73 389.82,505.89 391.87,507.03 393.92,508.16 395.96,509.26 398.01,510.35 400.06,511.41 402.10,512.46 404.15,513.50 406.20,514.51 408.24,515.52 410.29,516.50 412.34,517.47 414.39,518.42 416.43,519.36 418.48,520.28 420.53,521.19 422.57,522.08 424.62,522.95 426.67,523.81 428.72,524.65 430.76,525.48 432.81,526.29 434.86,527.08 436.90,527.85 438.95,528.61 441.00,529.35 443.05,530.08 445.09,530.78 447.14,531.47 449.19,532.15 451.23,532.80 453.28,533.44 455.33,534.06 457.37,534.66 459.42,535.24 461.47,535.81 463.52,536.37 465.56,536.91 467.61,537.43 469.66,537.94 471.70,538.43 473.75,538.92 475.80,539.38 477.85,539.84 479.89,540.28 481.94,540.71 483.99,541.13 486.03,541.54 488.08,541.94 490.13,542.32 492.18,542.70 494.22,543.07 496.27,543.42 498.32,543.77 500.36,544.11 502.41,544.44 504.46,544.76 506.50,545.07 508.55,545.37 510.60,545.66 512.65,545.95 514.69,546.22 516.74,546.49 518.79,546.74 520.83,546.99 522.88,547.23 524.93,547.46 526.98,547.68 529.02,547.90 531.07,548.10 533.12,548.30 535.16,548.49 537.21,548.67 539.26,548.84 541.31,549.01 543.35,549.17 545.40,549.33 547.45,549.48 549.49,549.63 551.54,549.78 553.59,549.92 555.63,550.06 557.68,550.19 559.73,550.33 561.78,550.47 563.82,550.60 565.87,550.74 567.92,550.87 569.96,551.01 572.01,551.16 574.06,551.30 576.11,551.45 578.15,551.60 580.20,551.75 582.25,551.91 584.29,552.07 586.34,552.24 588.39,552.40 590.44,552.57 592.48,552.74 594.53,552.91 596.58,553.08 598.62,553.26 600.67,553.44 602.72,553.62 604.76,553.79 606.81,553.97 608.86,554.16 610.91,554.34 612.95,554.52 615.00,554.70" fill="none" stroke="#0a0ae8" stroke-width="1.8"/>
<path d="M123.70,190.25 L128.30,195.20 L123.70,200.15 L119.10,195.20Z" fill="#0a0ae8"/>
<path d="M205.58,297.95 L210.18,302.90 L205.58,307.85 L200.98,302.90Z" fill="#0a0ae8"/>
<path d="M287.47,412.95 L292.07,417.90 L287.47,422.85 L282.87,417.90Z" fill="#0a0ae8"/>
<path d="M369.35,488.35 L373.95,493.30 L369.35,498.25 L364.75,493.30Z" fill="#0a0ae8"/>
<path d="M451.23,527.85 L455.83,532.80 L451.23,537.75 L446.63,532.80Z" fill="#0a0ae8"/>
<path d="M533.12,543.35 L537.72,548.30 L533.12,553.25 L528.52,548.30Z" fill="#0a0ae8"/>
<path d="M615.00,549.75 L619.60,554.70 L615.00,559.65 L610.40,554.70Z" fill="#0a0ae8"/>
<polyline points="123.70,129.55 125.75,130.62 127.79,131.70 129.84,132.78 131.89,133.85 133.94,134.93 135.98,136.01 138.03,137.09 140.08,138.18 142.12,139.26 144.17,140.35 146.22,141.45 148.27,142.55 150.31,143.65 152.36,144.75 154.41,145.86 156.45,146.98 158.50,148.10 160.55,149.23 162.59,150.36 164.64,151.50 166.69,152.65 168.74,153.80 170.78,154.96 172.83,156.12 174.88,157.29 176.92,158.47 178.97,159.65 181.02,160.83 183.07,162.02 185.11,163.22 187.16,164.41 189.21,165.61 191.25,166.82 193.30,168.02 195.35,169.23 197.40,170.44 199.44,171.66 201.49,172.87 203.54,174.08 205.58,175.30 207.63,176.52 209.68,177.73 211.72,178.95 213.77,180.17 215.82,181.39 217.87,182.60 219.91,183.82 221.96,185.04 224.01,186.26 226.05,187.47 228.10,188.69 230.15,189.90 232.20,191.12 234.24,192.33 236.29,193.55 238.34,194.76 240.38,195.97 242.43,197.18 244.48,198.39 246.53,199.60 248.57,200.81 250.62,202.01 252.67,203.21 254.71,204.41 256.76,205.61 258.81,206.80 260.85,207.99 262.90,209.18 264.95,210.36 267.00,211.53 269.04,212.70 271.09,213.86 273.14,215.02 275.18,216.17 277.23,217.31 279.28,218.45 281.33,219.57 283.37,220.69 285.42,221.80 287.47,222.90 289.51,223.99 291.56,225.07 293.61,226.14 295.66,227.20 297.70,228.24 299.75,229.28 301.80,230.30 303.84,231.31 305.89,232.31 307.94,233.29 309.98,234.26 312.03,235.22 314.08,236.16 316.13,237.08 318.17,237.99 320.22,238.89 322.27,239.77 324.31,240.63 326.36,241.47 328.41,242.30 330.46,243.11 332.50,243.90 334.55,244.68 336.60,245.43 338.64,246.18 340.69,246.90 342.74,247.61 344.79,248.31 346.83,248.99 348.88,249.65 350.93,250.30 352.97,250.94 355.02,251.57 357.07,252.18 359.11,252.78 361.16,253.36 363.21,253.94 365.26,254.50 367.30,255.06 369.35,255.60 371.40,256.13 373.44,256.65 375.49,257.17 377.54,257.67 379.59,258.16 381.63,258.65 383.68,259.12 385.73,259.59 387.77,260.05 389.82,260.50 391.87,260.94 393.92,261.38 395.96,261.80 398.01,262.22 400.06,262.64 402.10,263.04 404.15,263.44 406.20,263.83 408.24,264.22 410.29,264.60 412.34,264.97 414.39,265.34 416.43,265.71 418.48,266.06 420.53,266.41 422.57,266.75 424.62,267.09 426.67,267.41 428.72,267.74 430.76,268.05 432.81,268.35 434.86,268.65 436.90,268.94 438.95,269.22 441.00,269.49 443.05,269.75 445.09,270.00 447.14,270.24 449.19,270.48 451.23,270.70 453.28,270.91 455.33,271.12 457.37,271.31 459.42,271.50 461.47,271.68 463.52,271.85 465.56,272.01 467.61,272.17 469.66,272.32 471.70,272.47 473.75,272.61 475.80,272.75 477.85,272.89 479.89,273.02 481.94,273.16 483.99,273.29 486.03,273.41 488.08,273.54 490.13,273.67 492.18,273.80 494.22,273.93 496.27,274.06 498.32,274.19 500.36,274.32 502.41,274.46 504.46,274.59 506.50,274.72 508.55,274.84 510.60,274.97 512.65,275.09 514.69,275.21 516.74,275.33 518.79,275.44 520.83,275.55 522.88,275.66 524.93,275.76 526.98,275.85 529.02,275.94 531.07,276.02 533.12,276.10 535.16,276.17 537.21,276.23 539.26,276.29 541.31,276.34 543.35,276.39 545.40,276.43 547.45,276.47 549.49,276.50 551.54,276.53 553.59,276.56 555.63,276.58 557.68,276.60 559.73,276.62 561.78,276.64 563.82,276.66 565.87,276.68 567.92,276.69 569.96,276.71 572.01,276.73 574.06,276.75 576.11,276.77 578.15,276.80 580.20,276.82 582.25,276.85 584.29,276.87 586.34,276.90 588.39,276.93 590.44,276.97 592.48,277.00 594.53,277.03 596.58,277.07 598.62,277.10 600.67,277.14 602.72,277.17 604.76,277.21 606.81,277.25 608.86,277.29 610.91,277.32 612.95,277.36 615.00,277.40" fill="none" stroke="#1e7f1e" stroke-width="1.8"/>
<circle cx="123.70" cy="129.55" r="4.3" fill="#fff" stroke="#2d7a2d" stroke-width="1.1"/>
<circle cx="205.58" cy="175.30" r="4.3" fill="#fff" stroke="#2d7a2d" stroke-width="1.1"/>
<circle cx="287.47" cy="222.90" r="4.3" fill="#fff" stroke="#2d7a2d" stroke-width="1.1"/>
<circle cx="369.35" cy="255.60" r="4.3" fill="#fff" stroke="#2d7a2d" stroke-width="1.1"/>
<circle cx="451.23" cy="270.70" r="4.3" fill="#fff" stroke="#2d7a2d" stroke-width="1.1"/>
<circle cx="533.12" cy="276.10" r="4.3" fill="#fff" stroke="#2d7a2d" stroke-width="1.1"/>
<circle cx="615.00" cy="277.40" r="4.3" fill="#fff" stroke="#2d7a2d" stroke-width="1.1"/>
<polyline points="123.70,165.60 125.75,167.48 127.79,169.36 129.84,171.25 131.89,173.14 133.94,175.03 135.98,176.93 138.03,178.84 140.08,180.75 142.12,182.68 144.17,184.62 146.22,186.57 148.27,188.53 150.31,190.51 152.36,192.51 154.41,194.52 156.45,196.55 158.50,198.61 160.55,200.68 162.59,202.78 164.64,204.90 166.69,207.05 168.74,209.21 170.78,211.40 172.83,213.61 174.88,215.83 176.92,218.07 178.97,220.32 181.02,222.57 183.07,224.83 185.11,227.10 187.16,229.36 189.21,231.63 191.25,233.89 193.30,236.14 195.35,238.39 197.40,240.62 199.44,242.84 201.49,245.05 203.54,247.23 205.58,249.40 207.63,251.54 209.68,253.67 211.72,255.77 213.77,257.85 215.82,259.92 217.87,261.98 219.91,264.03 221.96,266.06 224.01,268.09 226.05,270.11 228.10,272.12 230.15,274.14 232.20,276.15 234.24,278.17 236.29,280.19 238.34,282.21 240.38,284.24 242.43,286.28 244.48,288.34 246.53,290.40 248.57,292.48 250.62,294.57 252.67,296.67 254.71,298.78 256.76,300.89 258.81,303.00 260.85,305.11 262.90,307.22 264.95,309.32 267.00,311.41 269.04,313.49 271.09,315.55 273.14,317.60 275.18,319.62 277.23,321.63 279.28,323.60 281.33,325.55 283.37,327.47 285.42,329.35 287.47,331.20 289.51,333.01 291.56,334.78 293.61,336.52 295.66,338.22 297.70,339.88 299.75,341.52 301.80,343.13 303.84,344.70 305.89,346.26 307.94,347.78 309.98,349.28 312.03,350.76 314.08,352.22 316.13,353.67 318.17,355.09 320.22,356.50 322.27,357.89 324.31,359.27 326.36,360.64 328.41,362.00 330.46,363.35 332.50,364.69 334.55,366.03 336.60,367.35 338.64,368.67 340.69,369.97 342.74,371.26 344.79,372.54 346.83,373.81 348.88,375.07 350.93,376.31 352.97,377.54 355.02,378.75 357.07,379.95 359.11,381.13 361.16,382.30 363.21,383.45 365.26,384.58 367.30,385.70 369.35,386.80 371.40,387.88 373.44,388.94 375.49,389.99 377.54,391.02 379.59,392.03 381.63,393.02 383.68,394.01 385.73,394.97 387.77,395.93 389.82,396.87 391.87,397.80 393.92,398.71 395.96,399.62 398.01,400.51 400.06,401.40 402.10,402.28 404.15,403.14 406.20,404.00 408.24,404.85 410.29,405.70 412.34,406.54 414.39,407.37 416.43,408.20 418.48,409.01 420.53,409.82 422.57,410.63 424.62,411.42 426.67,412.20 428.72,412.98 430.76,413.74 432.81,414.50 434.86,415.24 436.90,415.97 438.95,416.69 441.00,417.40 443.05,418.10 445.09,418.78 447.14,419.45 449.19,420.11 451.23,420.75 453.28,421.38 455.33,421.99 457.37,422.59 459.42,423.17 461.47,423.75 463.52,424.30 465.56,424.85 467.61,425.37 469.66,425.89 471.70,426.39 473.75,426.88 475.80,427.36 477.85,427.82 479.89,428.27 481.94,428.71 483.99,429.13 486.03,429.54 488.08,429.94 490.13,430.33 492.18,430.70 494.22,431.06 496.27,431.41 498.32,431.75 500.36,432.08 502.41,432.40 504.46,432.70 506.50,433.00 508.55,433.29 510.60,433.56 512.65,433.83 514.69,434.09 516.74,434.34 518.79,434.59 520.83,434.82 522.88,435.05 524.93,435.27 526.98,435.49 529.02,435.70 531.07,435.90 533.12,436.10 535.16,436.29 537.21,436.48 539.26,436.66 541.31,436.84 543.35,437.01 545.40,437.18 547.45,437.34 549.49,437.50 551.54,437.66 553.59,437.81 555.63,437.96 557.68,438.10 559.73,438.24 561.78,438.37 563.82,438.50 565.87,438.63 567.92,438.75 569.96,438.87 572.01,438.99 574.06,439.10 576.11,439.21 578.15,439.32 580.20,439.42 582.25,439.52 584.29,439.62 586.34,439.72 588.39,439.81 590.44,439.90 592.48,439.99 594.53,440.08 596.58,440.17 598.62,440.25 600.67,440.34 602.72,440.42 604.76,440.50 606.81,440.58 608.86,440.66 610.91,440.74 612.95,440.82 615.00,440.90" fill="none" stroke="#1e7f1e" stroke-width="1.8"/>
<circle cx="123.70" cy="165.60" r="4.3" fill="#fff" stroke="#2d7a2d" stroke-width="1.1"/>
<circle cx="205.58" cy="249.40" r="4.3" fill="#fff" stroke="#2d7a2d" stroke-width="1.1"/>
<circle cx="287.47" cy="331.20" r="4.3" fill="#fff" stroke="#2d7a2d" stroke-width="1.1"/>
<circle cx="369.35" cy="386.80" r="4.3" fill="#fff" stroke="#2d7a2d" stroke-width="1.1"/>
<circle cx="451.23" cy="420.75" r="4.3" fill="#fff" stroke="#2d7a2d" stroke-width="1.1"/>
<circle cx="533.12" cy="436.10" r="4.3" fill="#fff" stroke="#2d7a2d" stroke-width="1.1"/>
<circle cx="615.00" cy="440.90" r="4.3" fill="#fff" stroke="#2d7a2d" stroke-width="1.1"/>
<polyline points="123.70,195.20 125.75,197.85 127.79,200.50 129.84,203.16 131.89,205.81 133.94,208.47 135.98,211.14 138.03,213.81 140.08,216.49 142.12,219.17 144.17,221.87 146.22,224.57 148.27,227.29 150.31,230.01 152.36,232.75 154.41,235.50 156.45,238.27 158.50,241.05 160.55,243.85 162.59,246.67 164.64,249.50 166.69,252.35 168.74,255.23 170.78,258.12 172.83,261.02 174.88,263.95 176.92,266.89 178.97,269.85 181.02,272.82 183.07,275.81 185.11,278.81 187.16,281.83 189.21,284.86 191.25,287.90 193.30,290.95 195.35,294.02 197.40,297.09 199.44,300.18 201.49,303.28 203.54,306.38 205.58,309.50 207.63,312.62 209.68,315.75 211.72,318.89 213.77,322.04 215.82,325.19 217.87,328.35 219.91,331.52 221.96,334.69 224.01,337.87 226.05,341.05 228.10,344.24 230.15,347.43 232.20,350.63 234.24,353.83 236.29,357.03 238.34,360.24 240.38,363.45 242.43,366.67 244.48,369.88 246.53,373.10 248.57,376.32 250.62,379.54 252.67,382.76 254.71,385.97 256.76,389.18 258.81,392.39 260.85,395.59 262.90,398.79 264.95,401.97 267.00,405.14 269.04,408.30 271.09,411.45 273.14,414.59 275.18,417.70 277.23,420.80 279.28,423.89 281.33,426.95 283.37,429.99 285.42,433.01 287.47,436.00 289.51,438.97 291.56,441.91 293.61,444.83 295.66,447.72 297.70,450.59 299.75,453.42 301.80,456.23 303.84,459.02 305.89,461.77 307.94,464.50 309.98,467.20 312.03,469.88 314.08,472.52 316.13,475.13 318.17,477.72 320.22,480.28 322.27,482.80 324.31,485.30 326.36,487.76 328.41,490.20 330.46,492.60 332.50,494.98 334.55,497.32 336.60,499.63 338.64,501.91 340.69,504.16 342.74,506.38 344.79,508.56 346.83,510.71 348.88,512.83 350.93,514.92 352.97,516.97 355.02,518.99 357.07,520.98 359.11,522.94 361.16,524.86 363.21,526.74 365.26,528.60 367.30,530.42 369.35,532.20 371.40,533.95 373.44,535.67 375.49,537.35 377.54,539.00 379.59,540.62 381.63,542.21 383.68,543.76 385.73,545.29 387.77,546.79 389.82,548.26 391.87,549.70 393.92,551.11 395.96,552.50 398.01,553.86 400.06,555.19 402.10,556.50 404.15,557.79 406.20,559.05 408.24,560.28 410.29,561.50 412.34,562.69 414.39,563.86 416.43,565.01 418.48,566.14 420.53,567.24 422.57,568.32 424.62,569.38 426.67,570.41 428.72,571.42 430.76,572.40 432.81,573.36 434.86,574.29 436.90,575.20 438.95,576.08 441.00,576.93 443.05,577.76 445.09,578.56 447.14,579.34 449.19,580.08 451.23,580.80 453.28,581.49 455.33,582.15 457.37,582.79 459.42,583.40 461.47,583.99 463.52,584.55 465.56,585.09 467.61,585.61 469.66,586.10 471.70,586.58 473.75,587.04 475.80,587.47 477.85,587.89 479.89,588.29 481.94,588.68 483.99,589.05 486.03,589.41 488.08,589.75 490.13,590.08 492.18,590.40 494.22,590.71 496.27,591.00 498.32,591.29 500.36,591.57 502.41,591.83 504.46,592.09 506.50,592.34 508.55,592.58 510.60,592.82 512.65,593.04 514.69,593.26 516.74,593.48 518.79,593.68 520.83,593.89 522.88,594.08 524.93,594.27 526.98,594.46 529.02,594.64 531.07,594.82 533.12,595.00 535.16,595.17 537.21,595.34 539.26,595.51 541.31,595.68 543.35,595.84 545.40,596.01 547.45,596.17 549.49,596.33 551.54,596.49 553.59,596.64 555.63,596.80 557.68,596.95 559.73,597.11 561.78,597.26 563.82,597.42 565.87,597.57 567.92,597.73 569.96,597.89 572.01,598.04 574.06,598.20 576.11,598.36 578.15,598.52 580.20,598.68 582.25,598.84 584.29,599.00 586.34,599.16 588.39,599.33 590.44,599.49 592.48,599.66 594.53,599.82 596.58,599.99 598.62,600.16 600.67,600.32 602.72,600.49 604.76,600.66 606.81,600.83 608.86,600.99 610.91,601.16 612.95,601.33 615.00,601.50" fill="none" stroke="#1e7f1e" stroke-width="1.8"/>
<circle cx="123.70" cy="195.20" r="4.3" fill="#fff" stroke="#2d7a2d" stroke-width="1.1"/>
<circle cx="205.58" cy="309.50" r="4.3" fill="#fff" stroke="#2d7a2d" stroke-width="1.1"/>
<circle cx="287.47" cy="436.00" r="4.3" fill="#fff" stroke="#2d7a2d" stroke-width="1.1"/>
<circle cx="369.35" cy="532.20" r="4.3" fill="#fff" stroke="#2d7a2d" stroke-width="1.1"/>
<circle cx="451.23" cy="580.80" r="4.3" fill="#fff" stroke="#2d7a2d" stroke-width="1.1"/>
<circle cx="533.12" cy="595.00" r="4.3" fill="#fff" stroke="#2d7a2d" stroke-width="1.1"/>
<circle cx="615.00" cy="601.50" r="4.3" fill="#fff" stroke="#2d7a2d" stroke-width="1.1"/>
<polyline points="123.70,129.55 125.75,130.62 127.79,131.70 129.84,132.78 131.89,133.85 133.94,134.93 135.98,136.01 138.03,137.09 140.08,138.18 142.12,139.26 144.17,140.35 146.22,141.45 148.27,142.54 150.31,143.65 152.36,144.75 154.41,145.86 156.45,146.98 158.50,148.10 160.55,149.23 162.59,150.36 164.64,151.50 166.69,152.65 168.74,153.80 170.78,154.96 172.83,156.12 174.88,157.29 176.92,158.47 178.97,159.65 181.02,160.84 183.07,162.03 185.11,163.22 187.16,164.42 189.21,165.62 191.25,166.82 193.30,168.03 195.35,169.23 197.40,170.44 199.44,171.66 201.49,172.87 203.54,174.08 205.58,175.30 207.63,176.52 209.68,177.73 211.72,178.95 213.77,180.16 215.82,181.38 217.87,182.60 219.91,183.81 221.96,185.03 224.01,186.25 226.05,187.46 228.10,188.68 230.15,189.90 232.20,191.11 234.24,192.33 236.29,193.54 238.34,194.75 240.38,195.97 242.43,197.18 244.48,198.39 246.53,199.60 248.57,200.81 250.62,202.02 252.67,203.22 254.71,204.43 256.76,205.63 258.81,206.82 260.85,208.02 262.90,209.20 264.95,210.39 267.00,211.56 269.04,212.73 271.09,213.90 273.14,215.05 275.18,216.20 277.23,217.34 279.28,218.47 281.33,219.60 283.37,220.71 285.42,221.81 287.47,222.90 289.51,223.98 291.56,225.05 293.61,226.10 295.66,227.14 297.70,228.17 299.75,229.19 301.80,230.20 303.84,231.19 305.89,232.17 307.94,233.13 309.98,234.08 312.03,235.02 314.08,235.94 316.13,236.85 318.17,237.75 320.22,238.63 322.27,239.49 324.31,240.35 326.36,241.18 328.41,242.00 330.46,242.80 332.50,243.59 334.55,244.37 336.60,245.12 338.64,245.86 340.69,246.59 342.74,247.30 344.79,248.00 346.83,248.68 348.88,249.35 350.93,250.00 352.97,250.63 355.02,251.26 357.07,251.86 359.11,252.45 361.16,253.03 363.21,253.60 365.26,254.14 367.30,254.68 369.35,255.20 371.40,255.71 373.44,256.20 375.49,256.68 377.54,257.14 379.59,257.59 381.63,258.02 383.68,258.44 385.73,258.85 387.77,259.24 389.82,259.62 391.87,259.98 393.92,260.33 395.96,260.67 398.01,260.99 400.06,261.29 402.10,261.58 404.15,261.86 406.20,262.12 408.24,262.37 410.29,262.60 412.34,262.82 414.39,263.02 416.43,263.21 418.48,263.40 420.53,263.57 422.57,263.73 424.62,263.89 426.67,264.04 428.72,264.18 430.76,264.32 432.81,264.46 434.86,264.60 436.90,264.73 438.95,264.87 441.00,265.01 443.05,265.16 445.09,265.31 447.14,265.46 449.19,265.63 451.23,265.80 453.28,265.98 455.33,266.17 457.37,266.37 459.42,266.57 461.47,266.78 463.52,267.00 465.56,267.22 467.61,267.44 469.66,267.66 471.70,267.88 473.75,268.11 475.80,268.33 477.85,268.54 479.89,268.76 481.94,268.97 483.99,269.17 486.03,269.36 488.08,269.55 490.13,269.73 492.18,269.90 494.22,270.06 496.27,270.21 498.32,270.34 500.36,270.47 502.41,270.59 504.46,270.70 506.50,270.80 508.55,270.90 510.60,270.99 512.65,271.07 514.69,271.15 516.74,271.22 518.79,271.29 520.83,271.36 522.88,271.42 524.93,271.48 526.98,271.53 529.02,271.59 531.07,271.65 533.12,271.70 535.16,271.75 537.21,271.81 539.26,271.86 541.31,271.92 543.35,271.97 545.40,272.03 547.45,272.08 549.49,272.14 551.54,272.19 553.59,272.24 555.63,272.29 557.68,272.34 559.73,272.39 561.78,272.44 563.82,272.49 565.87,272.53 567.92,272.58 569.96,272.62 572.01,272.66 574.06,272.70 576.11,272.74 578.15,272.77 580.20,272.81 582.25,272.84 584.29,272.87 586.34,272.90 588.39,272.92 590.44,272.95 592.48,272.97 594.53,273.00 596.58,273.02 598.62,273.04 600.67,273.06 602.72,273.09 604.76,273.11 606.81,273.12 608.86,273.14 610.91,273.16 612.95,273.18 615.00,273.20" fill="none" stroke="#dc1a1e" stroke-width="1.9" stroke-dasharray="1.5 4 8.6 4"/>
<polyline points="123.70,165.10 125.75,166.92 127.79,168.74 129.84,170.56 131.89,172.38 133.94,174.20 135.98,176.02 138.03,177.85 140.08,179.67 142.12,181.50 144.17,183.34 146.22,185.17 148.27,187.01 150.31,188.86 152.36,190.70 154.41,192.56 156.45,194.41 158.50,196.28 160.55,198.15 162.59,200.02 164.64,201.90 166.69,203.79 168.74,205.68 170.78,207.58 172.83,209.50 174.88,211.42 176.92,213.35 178.97,215.29 181.02,217.25 183.07,219.22 185.11,221.20 187.16,223.20 189.21,225.21 191.25,227.25 193.30,229.29 195.35,231.36 197.40,233.45 199.44,235.55 201.49,237.68 203.54,239.83 205.58,242.00 207.63,244.19 209.68,246.41 211.72,248.65 213.77,250.90 215.82,253.17 217.87,255.46 219.91,257.76 221.96,260.07 224.01,262.39 226.05,264.72 228.10,267.05 230.15,269.39 232.20,271.74 234.24,274.08 236.29,276.43 238.34,278.77 240.38,281.12 242.43,283.45 244.48,285.78 246.53,288.10 248.57,290.41 250.62,292.71 252.67,295.00 254.71,297.27 256.76,299.53 258.81,301.78 260.85,304.01 262.90,306.23 264.95,308.42 267.00,310.60 269.04,312.76 271.09,314.90 273.14,317.02 275.18,319.12 277.23,321.19 279.28,323.25 281.33,325.27 283.37,327.28 285.42,329.25 287.47,331.20 289.51,333.12 291.56,335.01 293.61,336.88 295.66,338.71 297.70,340.52 299.75,342.30 301.80,344.05 303.84,345.76 305.89,347.45 307.94,349.11 309.98,350.74 312.03,352.34 314.08,353.91 316.13,355.44 318.17,356.95 320.22,358.42 322.27,359.86 324.31,361.28 326.36,362.65 328.41,364.00 330.46,365.31 332.50,366.60 334.55,367.85 336.60,369.08 338.64,370.27 340.69,371.45 342.74,372.60 344.79,373.72 346.83,374.83 348.88,375.91 350.93,376.98 352.97,378.03 355.02,379.07 357.07,380.09 359.11,381.10 361.16,382.09 363.21,383.08 365.26,384.06 367.30,385.03 369.35,386.00 371.40,386.96 373.44,387.92 375.49,388.87 377.54,389.82 379.59,390.75 381.63,391.68 383.68,392.60 385.73,393.50 387.77,394.40 389.82,395.28 391.87,396.15 393.92,397.01 395.96,397.84 398.01,398.67 400.06,399.47 402.10,400.26 404.15,401.03 406.20,401.77 408.24,402.50 410.29,403.20 412.34,403.88 414.39,404.54 416.43,405.17 418.48,405.79 420.53,406.39 422.57,406.96 424.62,407.52 426.67,408.07 428.72,408.59 430.76,409.11 432.81,409.60 434.86,410.09 436.90,410.56 438.95,411.02 441.00,411.47 443.05,411.91 445.09,412.35 447.14,412.77 449.19,413.19 451.23,413.60 453.28,414.01 455.33,414.41 457.37,414.80 459.42,415.20 461.47,415.58 463.52,415.96 465.56,416.34 467.61,416.71 469.66,417.07 471.70,417.43 473.75,417.78 475.80,418.13 477.85,418.47 479.89,418.81 481.94,419.14 483.99,419.46 486.03,419.78 488.08,420.09 490.13,420.40 492.18,420.70 494.22,420.99 496.27,421.28 498.32,421.56 500.36,421.84 502.41,422.11 504.46,422.37 506.50,422.63 508.55,422.88 510.60,423.13 512.65,423.37 514.69,423.60 516.74,423.83 518.79,424.06 520.83,424.28 522.88,424.49 524.93,424.71 526.98,424.91 529.02,425.11 531.07,425.31 533.12,425.50 535.16,425.69 537.21,425.87 539.26,426.05 541.31,426.23 543.35,426.40 545.40,426.57 547.45,426.73 549.49,426.89 551.54,427.05 553.59,427.21 555.63,427.37 557.68,427.52 559.73,427.67 561.78,427.82 563.82,427.97 565.87,428.12 567.92,428.26 569.96,428.41 572.01,428.55 574.06,428.70 576.11,428.85 578.15,428.99 580.20,429.14 582.25,429.28 584.29,429.43 586.34,429.57 588.39,429.72 590.44,429.86 592.48,430.01 594.53,430.15 596.58,430.30 598.62,430.44 600.67,430.59 602.72,430.73 604.76,430.88 606.81,431.02 608.86,431.17 610.91,431.31 612.95,431.46 615.00,431.60" fill="none" stroke="#dc1a1e" stroke-width="1.9" stroke-dasharray="1.5 4 8.6 4"/>
<polyline points="123.70,195.20 125.75,197.90 127.79,200.60 129.84,203.30 131.89,206.00 133.94,208.69 135.98,211.39 138.03,214.09 140.08,216.78 142.12,219.47 144.17,222.16 146.22,224.85 148.27,227.53 150.31,230.22 152.36,232.90 154.41,235.57 156.45,238.25 158.50,240.92 160.55,243.58 162.59,246.24 164.64,248.90 166.69,251.55 168.74,254.20 170.78,256.85 172.83,259.50 174.88,262.16 176.92,264.81 178.97,267.48 181.02,270.15 183.07,272.83 185.11,275.53 187.16,278.23 189.21,280.96 191.25,283.70 193.30,286.45 195.35,289.23 197.40,292.03 199.44,294.86 201.49,297.71 203.54,300.59 205.58,303.50 207.63,306.44 209.68,309.41 211.72,312.40 213.77,315.42 215.82,318.47 217.87,321.53 219.91,324.61 221.96,327.70 224.01,330.80 226.05,333.92 228.10,337.04 230.15,340.17 232.20,343.30 234.24,346.43 236.29,349.56 238.34,352.69 240.38,355.81 242.43,358.92 244.48,362.02 246.53,365.10 248.57,368.17 250.62,371.22 252.67,374.25 254.71,377.27 256.76,380.27 258.81,383.25 260.85,386.20 262.90,389.14 264.95,392.05 267.00,394.95 269.04,397.82 271.09,400.66 273.14,403.48 275.18,406.28 277.23,409.05 279.28,411.80 281.33,414.52 283.37,417.21 285.42,419.87 287.47,422.50 289.51,425.10 291.56,427.68 293.61,430.22 295.66,432.73 297.70,435.21 299.75,437.67 301.80,440.09 303.84,442.48 305.89,444.84 307.94,447.17 309.98,449.46 312.03,451.73 314.08,453.96 316.13,456.16 318.17,458.33 320.22,460.47 322.27,462.58 324.31,464.65 326.36,466.69 328.41,468.70 330.46,470.67 332.50,472.62 334.55,474.53 336.60,476.40 338.64,478.25 340.69,480.06 342.74,481.85 344.79,483.60 346.83,485.32 348.88,487.01 350.93,488.67 352.97,490.30 355.02,491.90 357.07,493.47 359.11,495.02 361.16,496.53 363.21,498.01 365.26,499.47 367.30,500.90 369.35,502.30 371.40,503.67 373.44,505.02 375.49,506.34 377.54,507.64 379.59,508.91 381.63,510.16 383.68,511.38 385.73,512.59 387.77,513.77 389.82,514.94 391.87,516.08 393.92,517.21 395.96,518.32 398.01,519.42 400.06,520.50 402.10,521.56 404.15,522.62 406.20,523.66 408.24,524.68 410.29,525.70 412.34,526.71 414.39,527.70 416.43,528.69 418.48,529.66 420.53,530.62 422.57,531.57 424.62,532.50 426.67,533.43 428.72,534.33 430.76,535.22 432.81,536.10 434.86,536.96 436.90,537.80 438.95,538.63 441.00,539.44 443.05,540.23 445.09,541.00 447.14,541.75 449.19,542.49 451.23,543.20 453.28,543.89 455.33,544.56 457.37,545.22 459.42,545.85 461.47,546.47 463.52,547.07 465.56,547.66 467.61,548.23 469.66,548.79 471.70,549.34 473.75,549.88 475.80,550.41 477.85,550.93 479.89,551.44 481.94,551.94 483.99,552.44 486.03,552.94 488.08,553.43 490.13,553.91 492.18,554.40 494.22,554.89 496.27,555.37 498.32,555.85 500.36,556.33 502.41,556.80 504.46,557.27 506.50,557.73 508.55,558.19 510.60,558.64 512.65,559.08 514.69,559.51 516.74,559.93 518.79,560.33 520.83,560.73 522.88,561.11 524.93,561.48 526.98,561.84 529.02,562.17 531.07,562.50 533.12,562.80 535.16,563.09 537.21,563.35 539.26,563.61 541.31,563.84 543.35,564.06 545.40,564.27 547.45,564.47 549.49,564.65 551.54,564.83 553.59,564.99 555.63,565.14 557.68,565.29 559.73,565.43 561.78,565.56 563.82,565.69 565.87,565.82 567.92,565.94 569.96,566.06 572.01,566.18 574.06,566.30 576.11,566.42 578.15,566.54 580.20,566.66 582.25,566.78 584.29,566.91 586.34,567.03 588.39,567.15 590.44,567.28 592.48,567.40 594.53,567.53 596.58,567.65 598.62,567.78 600.67,567.91 602.72,568.03 604.76,568.16 606.81,568.29 608.86,568.42 610.91,568.54 612.95,568.67 615.00,568.80" fill="none" stroke="#dc1a1e" stroke-width="1.9" stroke-dasharray="1.5 4 8.6 4"/>
<line x1="615.0" y1="34.7" x2="615.0" y2="657.98" stroke="#000" stroke-width="1.9"/>
<rect x="614.00" y="387.80" width="2" height="2" fill="#dc1a1e"/>
<rect x="614.00" y="484.50" width="2" height="2" fill="#dc1a1e"/>
<g fill="none" stroke="#222" stroke-width="1">
<ellipse cx="325" cy="246.3" rx="10.8" ry="20.3"/>
<line x1="310.5" y1="195.4" x2="325.6" y2="226.1"/>
<ellipse cx="324.7" cy="349.6" rx="10.2" ry="22"/>
<line x1="369.6" y1="310.5" x2="326.3" y2="328.2"/>
<ellipse cx="243.8" cy="360.8" rx="10.5" ry="28.5"/>
<line x1="242.3" y1="388.8" x2="218.6" y2="457.6"/>
</g>
<rect x="328.0" y="60.5" width="255.4" height="98.7" fill="#fff" stroke="#000" stroke-width="1.5"/>
<line x1="331.4" y1="76.9" x2="396" y2="76.9" stroke="#dc1a1e" stroke-width="1.8" stroke-dasharray="1.7 2.76"/>
<line x1="332.2" y1="98.4" x2="397" y2="98.4" stroke="#dc1a1e" stroke-width="1.8" stroke-dasharray="1.5 4 8.6 4"/>
<line x1="332.1" y1="120.4" x2="395.9" y2="120.4" stroke="#0a0ae8" stroke-width="1.8"/>
<path d="M364.10,115.45 L368.70,120.40 L364.10,125.35 L359.50,120.40Z" fill="#0a0ae8"/>
<line x1="332.1" y1="142.3" x2="395.9" y2="142.3" stroke="#1e7f1e" stroke-width="1.8"/>
<circle cx="363.9" cy="142.3" r="4.3" fill="#fff" stroke="#2d7a2d" stroke-width="1.1"/>
<g font-family="Liberation Sans, Arial, sans-serif" font-size="17.6" fill="#111">
<text x="417.3" y="82.4">Gaussian</text><text x="496.3" y="82.4">CCI (L=1)</text>
<text x="417.3" y="103.8">Gaussian</text><text x="496.3" y="103.8">CCI (L= 6)</text>
<text x="416.8" y="125.9">Precise</text><text x="496.3" y="125.9">CCI (L=1)</text>
<text x="416.8" y="147.8">Precise</text><text x="496.3" y="147.8">CCI (L=6)</text>
<text x="267.2" y="185.5">Tx1Rx2</text>
<text x="381.7" y="312.6">Tx2Rx2</text>
<text x="183.4" y="481.3">Tx3Rx2</text>
</g>
<g font-family="Liberation Sans, Arial, sans-serif" font-weight="bold" font-size="17.6">
<text x="148" y="81.3" fill="#111">SIR=10dB</text>
<text x="437.2" y="189.3" fill="#1212d6">Fading Signal</text>
<text x="440.9" y="214.9" fill="#1212d6">Fading CCI</text>
</g>
<text font-family="Liberation Sans, Arial, sans-serif" font-weight="bold" font-size="19" x="371.8" y="709.8" text-anchor="middle" fill="#111">SNR</text>
<text font-family="Liberation Sans, Arial, sans-serif" font-weight="bold" font-size="19.4" transform="translate(65.7,353.5) rotate(-90)" text-anchor="middle" fill="#111">Average Bit Error Rate</text>
<g font-family="Liberation Sans, Arial, sans-serif" font-size="16" fill="#111">
<text x="123.70" y="681.5" text-anchor="middle">0</text>
<text x="205.58" y="681.5" text-anchor="middle">5</text>
<text x="287.47" y="681.5" text-anchor="middle">10</text>
<text x="369.35" y="681.5" text-anchor="middle">15</text>
<text x="451.23" y="681.5" text-anchor="middle">20</text>
<text x="533.12" y="681.5" text-anchor="middle">25</text>
<text x="615.00" y="681.5" text-anchor="middle">30</text>
<text x="113" y="43.70" text-anchor="end">10<tspan dy="-7.5" font-size="11.6">0</tspan></text>
<text x="113" y="147.28" text-anchor="end">10<tspan dy="-7.5" font-size="11.6">-1</tspan></text>
<text x="113" y="250.86" text-anchor="end">10<tspan dy="-7.5" font-size="11.6">-2</tspan></text>
<text x="113" y="354.44" text-anchor="end">10<tspan dy="-7.5" font-size="11.6">-3</tspan></text>
<text x="113" y="458.02" text-anchor="end">10<tspan dy="-7.5" font-size="11.6">-4</tspan></text>
<text x="113" y="561.60" text-anchor="end">10<tspan dy="-7.5" font-size="11.6">-5</tspan></text>
<text x="113" y="665.18" text-anchor="end">10<tspan dy="-7.5" font-size="11.6">-6</tspan></text>
</g>
</svg>
</body></html>
